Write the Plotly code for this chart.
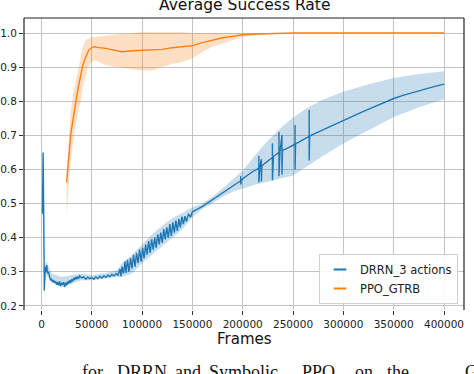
import plotly.graph_objects as go

# ---------------- data ----------------
drrn_frames = [
    1000, 1600, 2200, 2800, 3400, 4000, 4600, 5200, 6000, 7000, 8000, 9000, 10000,
    11000, 12000, 13000, 14000, 15000, 16000, 17000, 18000, 19000, 20000, 21000,
    22000, 23000, 24000, 25000, 26000, 27000, 28000, 29000, 30000, 31000, 32000,
    33000, 34000, 35000, 36000, 37000, 38000, 40000, 42000, 44000, 46000, 48000,
    50000, 52000, 54000, 56000, 58000, 60000, 62000, 64000, 66000, 68000, 70000,
    72000, 74000, 76000, 78000, 79000, 80000, 81500, 83000, 84000, 85500, 87000,
    88500, 90000, 91500, 93000, 94500, 96000, 97500, 99000, 100500, 102000, 103500,
    105000, 106500, 108000, 109500, 111000, 112500, 114000, 115500, 117000, 118500,
    120000, 121500, 123000, 124500, 126000, 127500, 129000, 130500, 132000, 133500,
    135000, 136500, 138000, 139500, 141000, 142500, 144000, 146000, 148000, 150000,
    153000, 156000, 160000, 164000, 168000, 172000, 176000, 180000, 184000, 188000,
    192000, 196000, 198000, 198000, 198000, 198500, 202000, 206000, 210000, 214000,
    216000, 216000, 216000, 217000, 218500, 218500, 219000, 222000, 226000,
    229500, 229500, 229500, 230500, 234000, 236000, 236000, 236000, 237000,
    239000, 239000, 239500, 244000, 248000, 252000, 252000, 252000, 252500,
    258000, 262000, 266000, 266000, 266000, 266500, 272000, 280000, 290000,
    300000, 310000, 320000, 330000, 340000, 350000, 360000, 370000, 380000,
    390000, 400000,
]
drrn_mean = [
    0.47, 0.65, 0.48, 0.245, 0.29, 0.315, 0.30, 0.32, 0.295, 0.30, 0.285, 0.275, 0.28,
    0.27, 0.275, 0.268, 0.272, 0.262, 0.27, 0.26, 0.272, 0.258, 0.268, 0.262,
    0.27, 0.255, 0.268, 0.26, 0.272, 0.265, 0.275, 0.268, 0.278, 0.272, 0.282,
    0.276, 0.285, 0.278, 0.286, 0.28, 0.288, 0.282, 0.285, 0.278, 0.284, 0.28,
    0.283, 0.278, 0.285, 0.28, 0.287, 0.282, 0.288, 0.284, 0.29, 0.286, 0.292,
    0.288, 0.295, 0.29, 0.308, 0.287, 0.315, 0.295, 0.33, 0.297, 0.335, 0.30,
    0.34, 0.31, 0.35, 0.315, 0.355, 0.325, 0.365, 0.33, 0.37, 0.34, 0.38,
    0.35, 0.39, 0.355, 0.395, 0.365, 0.40, 0.37, 0.41, 0.38, 0.415,
    0.385, 0.425, 0.395, 0.43, 0.40, 0.44, 0.405, 0.445, 0.415, 0.45,
    0.42, 0.455, 0.43, 0.462, 0.44, 0.463, 0.447, 0.47, 0.46, 0.476,
    0.48, 0.485, 0.492, 0.50, 0.508, 0.515, 0.522, 0.53, 0.54, 0.547,
    0.555, 0.563, 0.567, 0.58, 0.556, 0.568, 0.577, 0.586, 0.594, 0.60,
    0.605, 0.64, 0.562, 0.606, 0.63, 0.565, 0.61, 0.618, 0.627,
    0.635, 0.676, 0.568, 0.638, 0.645, 0.65, 0.71, 0.58, 0.652,
    0.70, 0.585, 0.656, 0.662, 0.668, 0.674, 0.73, 0.60, 0.675,
    0.684, 0.69, 0.697, 0.774, 0.626, 0.698, 0.706, 0.717, 0.731,
    0.744, 0.757, 0.77, 0.783, 0.796, 0.808, 0.818, 0.827, 0.835,
    0.843, 0.85,
]

drrn_band_frames = [
    1000, 1600, 2200, 2800, 3400, 5000, 10000, 20000, 30000, 40000, 50000, 60000,
    70000, 75000, 80000, 90000, 100000, 110000, 120000, 130000, 140000, 150000,
    160000, 170000, 180000, 190000, 200000, 212000, 225000, 237000, 250000,
    265000, 280000, 300000, 325000, 350000, 375000, 400000,
]
drrn_low = [
    0.40, 0.60, 0.45, 0.22, 0.27, 0.29, 0.27, 0.255, 0.265, 0.275, 0.275, 0.278,
    0.283, 0.285, 0.285, 0.295, 0.325, 0.35, 0.375, 0.40, 0.425, 0.46,
    0.485, 0.50, 0.52, 0.535, 0.544, 0.555, 0.565, 0.573, 0.582,
    0.612, 0.64, 0.676, 0.715, 0.754, 0.782, 0.806,
]
drrn_high = [
    0.50, 0.66, 0.52, 0.28, 0.32, 0.33, 0.295, 0.285, 0.29, 0.295, 0.29, 0.295,
    0.30, 0.305, 0.325, 0.35, 0.38, 0.41, 0.435, 0.458, 0.472, 0.49,
    0.50, 0.52, 0.545, 0.57, 0.597, 0.64, 0.685, 0.72, 0.752,
    0.782, 0.805, 0.828, 0.85, 0.868, 0.88, 0.888,
]

ppo_frames = [
    25000, 27000, 29000, 31500, 34000, 36500, 39000, 41000, 44000, 47000, 50000,
    53000, 57000, 64000, 72000, 80000, 90000, 100000, 110000, 120000, 130000,
    140000, 150000, 160000, 170000, 180000, 190000, 200000, 215000, 230000,
    250000, 300000, 350000, 400000,
]
ppo_mean = [
    0.562, 0.64, 0.70, 0.75, 0.80, 0.84, 0.876, 0.905, 0.93, 0.95, 0.957,
    0.96, 0.957, 0.955, 0.95, 0.945, 0.948, 0.95, 0.95, 0.952, 0.957,
    0.96, 0.963, 0.972, 0.98, 0.986, 0.99, 0.995, 0.997, 0.999,
    1.0, 1.0, 1.0, 1.0,
]
ppo_low = [
    0.465, 0.55, 0.63, 0.68, 0.73, 0.77, 0.80, 0.84, 0.876, 0.905, 0.916,
    0.92, 0.915, 0.906, 0.90, 0.898, 0.893, 0.891, 0.89, 0.90, 0.91,
    0.915, 0.926, 0.945, 0.96, 0.97, 0.978, 0.988, 0.994, 0.997,
    1.0, 1.0, 1.0, 1.0,
]
ppo_high = [
    0.59, 0.70, 0.77, 0.82, 0.86, 0.90, 0.93, 0.96, 0.98, 0.985, 0.988,
    0.988, 0.99, 0.992, 0.995, 0.998, 1.0, 1.003, 1.003, 1.003, 1.003,
    1.002, 1.0, 1.0, 1.0, 1.0, 1.0, 1.0, 1.0, 1.0,
    1.0, 1.0, 1.0, 1.0,
]

series_names = ["DRRN_3 actions", "PPO_GTRB"]
x_ticks = [0, 50000, 100000, 150000, 200000, 250000, 300000, 350000, 400000]
y_ticks = [0.2, 0.3, 0.4, 0.5, 0.6, 0.7, 0.8, 0.9, 1.0]
caption_words = ["for", "DRRN", "and", "Symbolic", "PPO", "on", "the", "G"]
caption_px = [80, 115, 173, 207, 300, 353, 385, 463]

BLUE = "#1f77b4"
ORANGE = "#ff7f0e"
FONT = "DejaVu Sans"

fig = go.Figure()

# bands
fig.add_trace(go.Scatter(
    x=drrn_band_frames + drrn_band_frames[::-1],
    y=drrn_high + drrn_low[::-1],
    fill="toself", fillcolor="rgba(31,119,180,0.25)",
    line=dict(width=0), mode="lines", hoverinfo="skip", showlegend=False))
fig.add_trace(go.Scatter(
    x=ppo_frames + ppo_frames[::-1],
    y=ppo_high + ppo_low[::-1],
    fill="toself", fillcolor="rgba(255,127,14,0.25)",
    line=dict(width=0), mode="lines", hoverinfo="skip", showlegend=False))

# lines
fig.add_trace(go.Scatter(x=drrn_frames, y=drrn_mean, mode="lines",
                         line=dict(color=BLUE, width=1.4), showlegend=False))
fig.add_trace(go.Scatter(x=ppo_frames, y=ppo_mean, mode="lines",
                         line=dict(color=ORANGE, width=1.4), showlegend=False))

# legend entries (short dash symbols)
for name, col in zip(series_names, [BLUE, ORANGE]):
    fig.add_trace(go.Scatter(
        x=[None], y=[None], mode="markers", name=name,
        marker=dict(symbol="line-ew", size=9, line=dict(color=col, width=2))))

L, R, T, B = 24, 10, 18, 64
W, H = 474, 374
ph = H - T - B

fig.update_layout(
    width=W, height=H,
    margin=dict(l=L, r=R, t=T, b=B, pad=0, autoexpand=False),
    paper_bgcolor="white", plot_bgcolor="white",
    font=dict(family=FONT, color="black", size=10.5),
    showlegend=True,
    legend=dict(
        x=(458 - L) / (W - L - R), y=(H - B - 304) / ph,
        xanchor="right", yanchor="bottom",
        bgcolor="rgba(255,255,255,0.9)", bordercolor="#d0d0d0", borderwidth=1,
        font=dict(family=FONT, size=11.5, color="#222222"),
        itemwidth=30, tracegroupgap=0,
    ),
    xaxis=dict(
        range=[-17375, 419875], tickvals=x_ticks,
        ticktext=[str(v) for v in x_ticks], automargin=False,
        showgrid=True, gridcolor="#c4c4c4", gridwidth=1, zeroline=False,
        showline=False, ticks="outside", ticklen=4, tickcolor="#333333",
        tickfont=dict(family=FONT, size=10.5, color="#222222"),
    ),
    yaxis=dict(
        range=[0.188, 1.044], tickvals=y_ticks,
        ticktext=[f"{v:.1f}" for v in y_ticks], automargin=False,
        showgrid=True, gridcolor="#c4c4c4", gridwidth=1, zeroline=False,
        showline=False, ticks="outside", ticklen=4, tickcolor="#333333",
        tickfont=dict(family=FONT, size=10.5, color="#222222"),
    ),
)

# spines: left, top, right
for x0, y0, x1, y1 in [(0, 0, 0, 1), (0, 1, 1, 1), (1, 0, 1, 1)]:
    fig.add_shape(type="line", xref="paper", yref="paper",
                  x0=x0, y0=y0, x1=x1, y1=y1,
                  line=dict(color="#222222", width=1.2))

annotations = [
    dict(text="Average Success Rate", xref="paper", yref="paper",
         x=0.5, y=1 + (T - 5) / ph, xanchor="center", yanchor="middle",
         showarrow=False, font=dict(family=FONT, size=15.5, color="#111111")),
    dict(text="Frames", xref="paper", yref="paper",
         x=(244 - L) / (W - L - R), y=-(339 - (H - B)) / ph,
         xanchor="center", yanchor="middle",
         showarrow=False, font=dict(family=FONT, size=15, color="#111111")),
]
for word, px in zip(caption_words, caption_px):
    annotations.append(dict(
        text=word, xref="paper", yref="paper",
        x=(px - L) / (W - L - R), y=-(360 - (H - B)) / ph,
        xanchor="left", yanchor="top", showarrow=False,
        font=dict(family="Liberation Serif", size=18, color="#111111")))
fig.update_layout(annotations=annotations)

fig.write_html(
    "out.html",
    config={"displayModeBar": False},
    post_script="document.body.style.margin='0';document.body.style.overflow='hidden';",
)
